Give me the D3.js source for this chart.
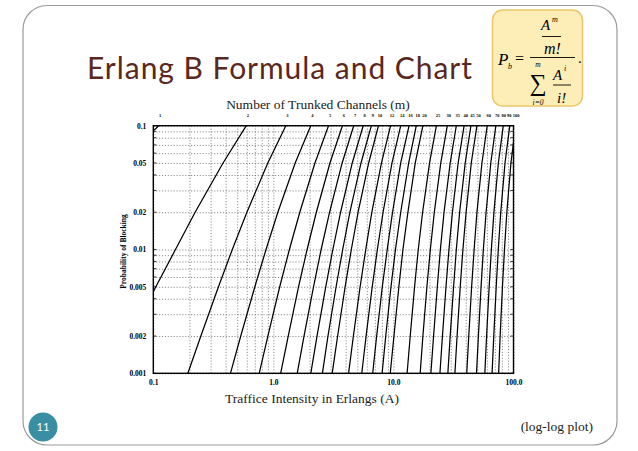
<!DOCTYPE html>
<html lang="en">
<head>
<meta charset="UTF-8">
<title>Erlang B Formula and Chart</title>
<style>
    body { margin: 0; background: #fff; }
    .serif { font-family: "Liberation Serif", "DejaVu Serif", serif; }
</style>
</head>
<body>
<svg id="svg"></svg>
<script src="https://d3js.org/d3.v7.min.js"></script>
<script>
// number of trunked channels, one curve each
const channels = [1, 2, 3, 4, 5, 6, 7, 8, 9, 10, 12, 14, 16, 18, 20, 25, 30, 35, 40, 45, 50, 60, 70, 80, 90, 100];
// blocking probabilities the curves were read at
const blockingLevels = [0.001, 0.002, 0.005, 0.01, 0.02, 0.05, 0.1];
// traffic (Erlangs) at each blocking level, one row per channel count
const trafficAtBlocking = [
    [0.0010, 0.0020, 0.0050, 0.0101, 0.0204, 0.0526, 0.111],
    [0.0458, 0.0653, 0.105, 0.153, 0.223, 0.381, 0.595],
    [0.194, 0.249, 0.349, 0.455, 0.602, 0.899, 1.27],
    [0.439, 0.535, 0.701, 0.869, 1.09, 1.52, 2.05],
    [0.762, 0.900, 1.13, 1.36, 1.66, 2.22, 2.88],
    [1.15, 1.33, 1.62, 1.91, 2.28, 2.96, 3.76],
    [1.58, 1.80, 2.16, 2.50, 2.94, 3.74, 4.67],
    [2.05, 2.31, 2.73, 3.13, 3.63, 4.54, 5.60],
    [2.56, 2.85, 3.33, 3.78, 4.34, 5.37, 6.55],
    [3.09, 3.43, 3.96, 4.46, 5.08, 6.22, 7.51],
    [4.23, 4.64, 5.28, 5.88, 6.61, 7.95, 9.47],
    [5.45, 5.92, 6.66, 7.35, 8.20, 9.73, 11.5],
    [6.72, 7.25, 8.08, 8.88, 9.83, 11.5, 13.5],
    [8.05, 8.63, 9.54, 10.4, 11.5, 13.4, 15.5],
    [9.41, 10.1, 11.1, 12.0, 13.2, 15.2, 17.6],
    [13.0, 13.8, 15.0, 16.1, 17.5, 20.0, 22.8],
    [16.7, 17.6, 19.0, 20.3, 21.9, 24.8, 28.1],
    [20.5, 21.6, 23.2, 24.6, 26.4, 29.7, 33.4],
    [24.4, 25.6, 27.4, 29.0, 31.0, 34.6, 38.8],
    [28.4, 29.7, 31.7, 33.4, 35.6, 39.6, 44.2],
    [32.5, 33.9, 36.0, 37.9, 40.3, 44.5, 49.6],
    [40.8, 42.4, 44.8, 47.0, 49.6, 54.6, 60.4],
    [49.2, 51.0, 53.7, 56.1, 59.1, 64.7, 71.3],
    [57.7, 59.7, 62.7, 65.4, 68.7, 74.8, 82.2],
    [66.3, 68.5, 71.8, 74.7, 78.3, 85.0, 93.1],
    [75.2, 77.4, 80.9, 84.1, 88.0, 95.2, 104.1]
];
// labelled ticks
const xTickLabels = [0.1, 1, 10, 100];
const yTickLabels = [0.1, 0.05, 0.02, 0.01, 0.005, 0.002, 0.001];

const width = 638, height = 451;
const plot = {left: 153.3, right: 513.5, top: 125.7, bottom: 373.3};

const svg = d3.select("#svg")
    .attr("width", width)
    .attr("height", height)
    .attr("viewBox", `0 0 ${width} ${height}`);

// slide frame
svg.append("rect")
    .attr("x", 23).attr("y", 5.5)
    .attr("width", 594).attr("height", 439.5)
    .attr("rx", 24)
    .attr("fill", "#fff")
    .attr("stroke", "#9a9a9a")
    .attr("stroke-width", 1.2);

// title
svg.append("text")
    .attr("x", 87).attr("y", 79)
    .attr("font-family", "Lato, 'Open Sans', sans-serif")
    .attr("font-size", 30)
    .attr("fill", "#5a2820")
    .attr("textLength", 385)
    .text("Erlang B Formula and Chart");

// formula box
const fbox = svg.append("g").attr("class", "serif");
fbox.append("rect")
    .attr("x", 492.5).attr("y", 10)
    .attr("width", 90).attr("height", 96)
    .attr("rx", 10)
    .attr("fill", "#fdeeb8")
    .attr("stroke", "#ebc76a")
    .attr("stroke-width", 1.5);
const ftxt = (x, y, size, t, italic = true, anchor = "start") =>
    fbox.append("text").attr("x", x).attr("y", y)
        .attr("font-size", size)
        .attr("font-style", italic ? "italic" : "normal")
        .attr("text-anchor", anchor)
        .text(t);
const fbar = (x1, x2, y) =>
    fbox.append("line").attr("x1", x1).attr("x2", x2).attr("y1", y).attr("y2", y)
        .attr("stroke", "#000").attr("stroke-width", 0.9);
ftxt(498, 65, 17, "P");
ftxt(508, 69, 8, "b");
ftxt(515, 64, 16, "=", false);
fbar(530, 575, 57.5);
ftxt(578, 63, 15, ".", false);
ftxt(541, 30, 15, "A");
ftxt(552, 22, 8, "m");
fbar(542, 561, 36.5);
ftxt(544, 54, 16, "m!");
ftxt(538, 67, 7.5, "m", true, "middle");
ftxt(538, 91, 24, "\u2211", false, "middle");
ftxt(538, 105, 7.5, "i=0", true, "middle");
ftxt(553, 80, 15, "A");
ftxt(564, 71, 8, "i");
fbar(553, 571, 85);
ftxt(557, 103, 15, "i!");

// scales
const x = d3.scaleLog().domain([0.1, 100]).range([plot.left, plot.right]);
const y = d3.scaleLog().domain([0.001, 0.1]).range([plot.bottom, plot.top]);
const innerH = plot.bottom - plot.top, innerW = plot.right - plot.left;

// dotted grid
const gridX = svg.append("g")
    .attr("transform", `translate(0,${plot.bottom})`)
    .call(d3.axisBottom(x).tickValues(x.ticks()).tickSize(-innerH).tickFormat(""));
const gridY = svg.append("g")
    .attr("transform", `translate(${plot.left},0)`)
    .call(d3.axisLeft(y).tickValues(y.ticks()).tickSize(-innerW).tickFormat(""));
[gridX, gridY].forEach(g => {
    g.select(".domain").remove();
    g.selectAll("line")
        .attr("stroke", "#666")
        .attr("stroke-width", 0.8)
        .attr("stroke-dasharray", "1.1,1.8");
});

// small ticks on left and right edges
[plot.left, plot.right].forEach((px, i) => {
    svg.append("g").selectAll("line")
        .data(y.ticks())
        .join("line")
        .attr("x1", px).attr("x2", px + (i === 0 ? 3 : -3))
        .attr("y1", d => y(d)).attr("y2", d => y(d))
        .attr("stroke", "#000").attr("stroke-width", 0.8);
});

// curves
svg.append("clipPath").attr("id", "clip")
    .append("rect")
    .attr("x", plot.left).attr("y", plot.top)
    .attr("width", innerW).attr("height", innerH);

const line = d3.line()
    .x(d => x(d[0]))
    .y(d => y(d[1]));

svg.append("g")
    .attr("clip-path", "url(#clip)")
    .selectAll("path")
    .data(trafficAtBlocking.map(row => row.map((a, i) => [a, blockingLevels[i]])))
    .join("path")
    .attr("d", line)
    .attr("fill", "none")
    .attr("stroke", "#000")
    .attr("stroke-width", 1.25);

// frame
svg.append("rect")
    .attr("x", plot.left).attr("y", plot.top)
    .attr("width", innerW).attr("height", innerH)
    .attr("fill", "none")
    .attr("stroke", "#000")
    .attr("stroke-width", 1.4);

// tick labels
const xAxis = svg.append("g")
    .attr("class", "serif")
    .attr("transform", `translate(0,${plot.bottom + 3})`)
    .call(d3.axisBottom(x).tickValues(xTickLabels).tickSize(0).tickFormat(d3.format(".1f")));
const yAxis = svg.append("g")
    .attr("class", "serif")
    .attr("transform", `translate(${plot.left - 4},0)`)
    .call(d3.axisLeft(y).tickValues(yTickLabels).tickSize(0).tickFormat(d => String(d)));
[xAxis, yAxis].forEach(g => {
    g.select(".domain").remove();
    g.selectAll("text")
        .attr("font-family", "'Liberation Serif', serif")
        .attr("font-size", 7.5)
        .attr("font-weight", "bold")
        .attr("fill", "#000");
});

// channel labels along the top, pushed apart where they would collide
const labelSize = 4.5;
const labelX = channels.map((d, i) => x(trafficAtBlocking[i][blockingLevels.length - 1]) + 1.5);
labelX[labelX.length - 1] = Math.min(labelX[labelX.length - 1], plot.right + 2.5);
for (let i = labelX.length - 2; i >= 0; i--) {
    const gap = (String(channels[i]).length + String(channels[i + 1]).length) * labelSize * 0.27 + 0.6;
    labelX[i] = Math.min(labelX[i], labelX[i + 1] - gap);
}
svg.append("g")
    .attr("class", "serif")
    .selectAll("text")
    .data(channels)
    .join("text")
    .attr("x", (d, i) => labelX[i])
    .attr("y", plot.top - 9)
    .attr("text-anchor", "middle")
    .attr("font-size", labelSize)
    .attr("font-weight", "bold")
    .text(d => d);

// axis titles
svg.append("text")
    .attr("class", "serif")
    .attr("x", 318).attr("y", 109)
    .attr("text-anchor", "middle")
    .attr("font-size", 13.5)
    .attr("fill", "#222")
    .text("Number of Trunked Channels (m)");
svg.append("text")
    .attr("class", "serif")
    .attr("x", 312).attr("y", 403)
    .attr("text-anchor", "middle")
    .attr("font-size", 13.5)
    .attr("fill", "#222")
    .text("Traffice Intensity in Erlangs (A)");
svg.append("text")
    .attr("class", "serif")
    .attr("transform", `translate(126,${(plot.top + plot.bottom) / 2 + 2}) rotate(-90)`)
    .attr("text-anchor", "middle")
    .attr("font-size", 7.5)
    .attr("font-weight", "bold")
    .text("Probability of Blocking");

// footer
svg.append("circle")
    .attr("cx", 43).attr("cy", 427).attr("r", 14.5)
    .attr("fill", "#3a8ea3");
svg.append("text")
    .attr("x", 43).attr("y", 431)
    .attr("text-anchor", "middle")
    .attr("font-family", "Lato, sans-serif")
    .attr("font-size", 11)
    .attr("fill", "#fff")
    .text("11");
svg.append("text")
    .attr("class", "serif")
    .attr("x", 593).attr("y", 431)
    .attr("text-anchor", "end")
    .attr("font-size", 13.5)
    .attr("fill", "#222")
    .text("(log-log plot)");
</script>
</body>
</html>
